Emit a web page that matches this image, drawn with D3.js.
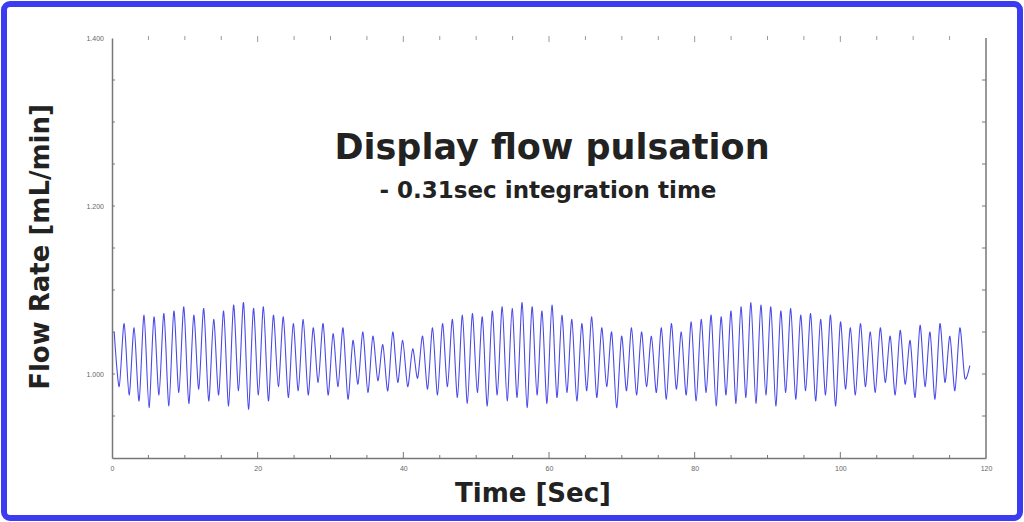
<!DOCTYPE html>
<html>
<head>
<meta charset="utf-8">
<script src="https://cdn.jsdelivr.net/npm/d3@7"></script>
<style>
  body { margin: 0; background: #fff; }
  svg { display: block; font-family: "DejaVu Sans", sans-serif; }
</style>
</head>
<body>
<div id="chart"></div>
<script>
// chart data
var xTicks = [0, 20, 40, 60, 80, 100, 120];
var yTicks = [1.0, 1.2, 1.4];
var yTickLabels = ["1.000", "1.200", "1.400"];
var sampleStep = 0.683;   // seconds between samples (peak / trough)
var sampleStart = 0.3;
// alternating peak / trough readings of the flow signal [mL/min]
var flow = [
  1.050, 0.985, 1.060, 0.975, 1.055, 0.968, 1.070, 0.960, 1.068, 0.975,
  1.072, 0.962, 1.075, 0.978, 1.080, 0.965, 1.070, 0.982, 1.078, 0.968,
  1.065, 0.975, 1.075, 0.962, 1.082, 0.980, 1.085, 0.958, 1.078, 0.975,
  1.080, 0.968, 1.070, 0.985, 1.068, 0.972, 1.060, 0.980, 1.065, 0.975,
  1.055, 0.990, 1.060, 0.975, 1.048, 0.985, 1.055, 0.970, 1.040, 0.988,
  1.050, 0.978, 1.045, 0.992, 1.035, 0.980, 1.050, 0.990, 1.040, 0.985,
  1.030, 0.995, 1.045, 0.982, 1.055, 0.975, 1.060, 0.985, 1.065, 0.972,
  1.070, 0.965, 1.072, 0.978, 1.068, 0.962, 1.075, 0.975, 1.080, 0.968,
  1.078, 0.972, 1.085, 0.960, 1.080, 0.975, 1.075, 0.965, 1.082, 0.972,
  1.070, 0.978, 1.065, 0.968, 1.060, 0.980, 1.068, 0.972, 1.055, 0.985,
  1.050, 0.960, 1.045, 0.980, 1.055, 0.975, 1.050, 0.985, 1.045, 0.978,
  1.055, 0.970, 1.060, 0.982, 1.050, 0.975, 1.062, 0.968, 1.065, 0.978,
  1.070, 0.962, 1.068, 0.975, 1.075, 0.965, 1.080, 0.972, 1.085, 0.965,
  1.082, 0.975, 1.080, 0.962, 1.075, 0.978, 1.078, 0.970, 1.070, 0.980,
  1.072, 0.968, 1.065, 0.975, 1.070, 0.962, 1.062, 0.982, 1.055, 0.975,
  1.060, 0.985, 1.050, 0.978, 1.055, 0.990, 1.045, 0.975, 1.052, 0.988,
  1.040, 0.972, 1.058, 0.985, 1.050, 0.970, 1.060, 0.990, 1.045, 0.980,
  1.055, 0.995, 1.010
];

var W = 1024, H = 522;
var margin = { left: 112, right: 38, top: 38, bottom: 64 };

var svg = d3.select("#chart").append("svg")
  .attr("width", W).attr("height", H);

// blue frame
svg.append("rect")
  .attr("x", 4).attr("y", 4).attr("width", W - 8).attr("height", H - 8)
  .attr("rx", 6).attr("fill", "none")
  .attr("stroke", "#3b3bf2").attr("stroke-width", 6);

var x = d3.scaleLinear().domain([0, 120]).range([margin.left, W - margin.right]);
var y = d3.scaleLinear().domain([0.9, 1.4]).range([H - margin.bottom, margin.top]);

var axisColor = "#777";

// bottom axis
var xAxis = svg.append("g")
  .attr("transform", "translate(0," + y(0.9) + ")")
  .call(d3.axisBottom(x).tickValues(xTicks).tickSize(0).tickPadding(8));
xAxis.select(".domain").attr("stroke", axisColor).attr("stroke-width", 1.5);
xAxis.selectAll("text").attr("fill", "#666").attr("font-size", 7);
svg.append("g").selectAll("line")
  .data(d3.range(5, 120, 5))
  .enter().append("line")
  .attr("x1", d => x(d)).attr("x2", d => x(d))
  .attr("y1", y(0.9)).attr("y2", d => y(0.9) - (d % 20 == 0 ? 6 : 3))
  .attr("stroke", axisColor);

// top ticks
svg.append("g").selectAll("line")
  .data(d3.range(5, 120, 5))
  .enter().append("line")
  .attr("x1", d => x(d)).attr("x2", d => x(d))
  .attr("y1", y(1.4) - 2).attr("y2", d => y(1.4) + (d % 20 == 0 ? 4 : 2))
  .attr("stroke", "#999");

// left axis
var yAxis = svg.append("g")
  .attr("transform", "translate(" + x(0) + ",0)")
  .call(d3.axisLeft(y).tickValues(yTicks).tickFormat((d, i) => yTickLabels[i]).tickSize(0).tickPadding(8));
yAxis.select(".domain").attr("stroke", axisColor).attr("stroke-width", 1.5);
yAxis.selectAll("text").attr("fill", "#666").attr("font-size", 7);
svg.append("g").selectAll("line")
  .data(d3.range(0.95, 1.4, 0.05))
  .enter().append("line")
  .attr("x1", x(0)).attr("x2", x(0) + 3)
  .attr("y1", d => y(d)).attr("y2", d => y(d))
  .attr("stroke", axisColor);

// right axis
svg.append("line")
  .attr("x1", x(120)).attr("x2", x(120))
  .attr("y1", y(1.4)).attr("y2", y(0.9))
  .attr("stroke", axisColor).attr("stroke-width", 1.5);
svg.append("g").selectAll("line")
  .data(d3.range(0.95, 1.4, 0.05))
  .enter().append("line")
  .attr("x1", x(120)).attr("x2", x(120) - 4)
  .attr("y1", d => y(d)).attr("y2", d => y(d))
  .attr("stroke", axisColor);

// flow line
var line = d3.line()
  .x((d, i) => x(sampleStart + i * sampleStep))
  .y(d => y(d))
  .curve(d3.curveCardinal.tension(0.2));
svg.append("path")
  .datum(flow)
  .attr("fill", "none")
  .attr("stroke", "#4a4ae8")
  .attr("stroke-width", 1.1)
  .attr("d", line);

// titles
svg.append("text")
  .attr("x", 552).attr("y", 159)
  .attr("text-anchor", "middle")
  .attr("font-size", 35).attr("font-weight", "bold").attr("fill", "#222")
  .text("Display flow pulsation");
svg.append("text")
  .attr("x", 548).attr("y", 198)
  .attr("text-anchor", "middle")
  .attr("font-size", 23).attr("font-weight", "bold").attr("fill", "#222")
  .text("- 0.31sec integration time");

// axis labels
svg.append("text")
  .attr("x", 533).attr("y", 502)
  .attr("text-anchor", "middle")
  .attr("font-size", 26).attr("font-weight", "bold").attr("fill", "#222")
  .text("Time [Sec]");
svg.append("text")
  .attr("transform", "translate(49,247) rotate(-90)")
  .attr("text-anchor", "middle")
  .attr("font-size", 26).attr("font-weight", "bold").attr("fill", "#222")
  .text("Flow Rate [mL/min]");
</script>
</body>
</html>
